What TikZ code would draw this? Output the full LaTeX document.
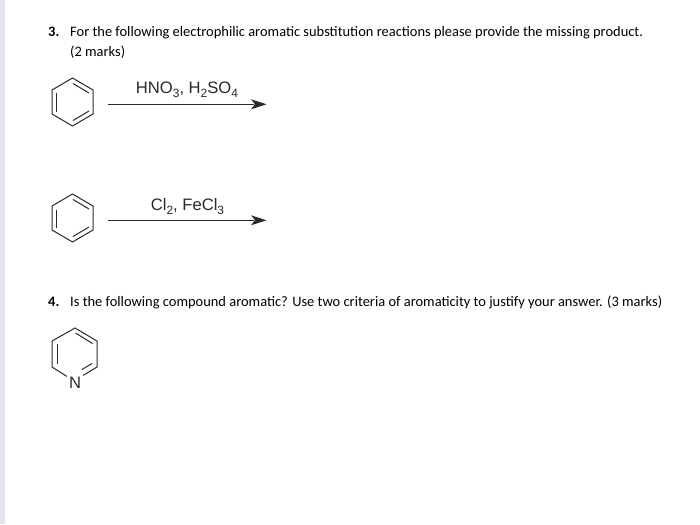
\documentclass[tikz,border=0pt]{standalone}
\usepackage{fontspec}
\setmainfont{Carlito}
\newfontfamily\chemfont{Liberation Sans}
\definecolor{ink}{HTML}{2A2A2A}
\definecolor{strip}{HTML}{E4E4EC}
\newcommand{\chemsub}[1]{\raisebox{-3.6pt}{\fontsize{12pt}{12pt}\selectfont #1}}
\tikzset{
  qtext/.style={anchor=base west,inner sep=0pt,text=black,font=\fontsize{14.46pt}{17pt}\selectfont},
  chemlabel/.style={anchor=base,inner sep=0pt,text=ink,font=\chemfont\fontsize{16.6pt}{18pt}\selectfont},
  bond/.style={draw=ink,line width=1pt,line join=miter},
  rxnarrow/.style={draw=ink,line width=0.9pt},
  rxntip/.style={fill=ink,draw=none}
}
\newcommand{\benzene}[2]{%
  \begin{scope}[shift={(#1,#2)}]
    \draw[bond] (0,-24) -- (20.5,-12) -- (20.5,12) -- (0,24) -- (-20.5,12) -- (-20.5,-12) -- cycle;
    \draw[bond] (-15.7,-8.5) -- (-15.7,9.5);
    \draw[bond] (0.5,-18.5) -- (16.5,-9);
    \draw[bond] (0.5,18.5) -- (16.5,9);
  \end{scope}}
\begin{document}
\begin{tikzpicture}[x=1pt,y=-1pt]
\useasboundingbox (0,0) rectangle (700,524);
\fill[white] (0,0) rectangle (700,524);
\fill[strip] (0,0) rectangle (5,524);
\node[qtext] (q3n) at (48,36.5) {\textbf{3.}};
\node[qtext] (q3a) at (70,36.5) {For the following electrophilic aromatic substitution reactions please provide the missing product.};
\node[qtext] (q3b) at (70,56.5) {(2 marks)};
\node[qtext] (q4n) at (48,306.5) {\textbf{4.}};
\node[qtext] (q4a) at (70,306.5) {Is the following compound aromatic? Use two criteria of aromaticity to justify your answer. (3 marks)};
\benzene{72.5}{102}
\benzene{72.5}{218}
% pyridine
\node[chemlabel] (nitro) at (75,388) {N};
\coordinate (pt) at (75,328);
\coordinate (pur) at (97,341);
\coordinate (plr) at (97,367);
\coordinate (pul) at (52,341);
\coordinate (pll) at (52,367);
\draw[bond] ([shift={(-2,0)}]nitro.north west) -- (pll) -- (pul) -- (pt) -- (pur) -- (plr) -- ([shift={(2,-1)}]nitro.north east);
\draw[bond] (57.5,344) -- (57.5,364);
\draw[bond] (75.5,333) -- (92.5,343.5);
\draw[bond] (92,363.5) -- (82,369.5);
% arrows
\coordinate (a1s) at (108,104.3);
\coordinate (a1e) at (254,104.3);
\coordinate (a2s) at (108,220.3);
\coordinate (a2e) at (254,220.3);
\draw[rxnarrow] (a1s) -- (a1e);
\draw[rxnarrow] (a2s) -- (a2e);
\fill[rxntip] (266.5,104.3) -- (251,99.3) -- (255,104.3) -- (251,109.3) -- cycle;
\fill[rxntip] (266.5,220.3) -- (251,215.3) -- (255,220.3) -- (251,225.3) -- cycle;
\node[chemlabel] (r1) at (187,94) {HNO\chemsub{3}, H\chemsub{2}SO\chemsub{4}};
\node[chemlabel] (r2) at (187.5,210.5) {Cl\chemsub{2}, FeCl\chemsub{3}};
\end{tikzpicture}
\end{document}
